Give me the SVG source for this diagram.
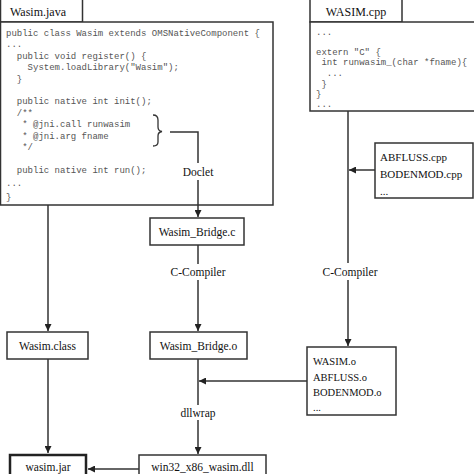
<svg xmlns="http://www.w3.org/2000/svg" width="474" height="474" viewBox="0 0 474 474">
  <defs>
    <marker id="arr" viewBox="0 0 10 10" refX="10" refY="5" markerWidth="7" markerHeight="7" orient="auto" markerUnits="userSpaceOnUse">
      <path d="M0,0 L10,5 L0,10 z" fill="#222"/>
    </marker>
    <style>
      .box { fill: #fff; stroke: #333; stroke-width: 1.5; }
      .thick { fill: #fff; stroke: #222; stroke-width: 2.5; }
      .lbl { font-family: "Liberation Serif", "Times New Roman", serif; font-size: 11.5px; fill: #111; }
      .sm { font-size: 10.5px; }
      .mid { text-anchor: middle; }
      .code { font-family: "Liberation Mono", "Courier New", monospace; font-size: 9px; fill: #555; white-space: pre; }
      .edge { fill: none; stroke: #333; stroke-width: 1.5; }
    </style>
  </defs>
  <rect width="474" height="474" fill="#fff"/>

  <!-- Wasim.java source -->
  <g id="wasim-java">
    <rect class="box" x="0.5" y="-2" width="82" height="24"/>
    <text class="lbl" x="10" y="16" style="font-size:12px">Wasim.java</text>
    <rect class="box" x="0.5" y="22" width="272.5" height="183"/>
    <text class="code" x="6" y="36">public class Wasim extends OMSNativeComponent {</text>
    <text class="code" x="6" y="47">...</text>
    <text class="code" x="6" y="59">  public void register() {</text>
    <text class="code" x="6" y="70">    System.loadLibrary("Wasim");</text>
    <text class="code" x="6" y="82">  }</text>
    <text class="code" x="6" y="104">  public native int init();</text>
    <text class="code" x="6" y="116">  /**</text>
    <text class="code" x="6" y="127">   * @jni.call runwasim</text>
    <text class="code" x="6" y="139">   * @jni.arg fname</text>
    <text class="code" x="6" y="150">   */</text>
    <text class="code" x="6" y="173">  public native int run();</text>
    <text class="code" x="6" y="186">...</text>
    <text class="code" x="6" y="200">}</text>
    <!-- brace grouping the doclet tags -->
    <path d="M153,115 Q158,115 158,120 V127 Q158,131 162,131.5 Q158,132 158,136 V142 Q158,146 153,146" fill="none" stroke="#333" stroke-width="1.3"/>
  </g>

  <!-- WASIM.cpp source -->
  <g id="wasim-cpp">
    <rect class="box" x="310" y="-2" width="92" height="24"/>
    <text class="lbl mid" x="356" y="16" style="font-size:12px">WASIM.cpp</text>
    <rect class="box" x="310" y="22" width="170" height="89"/>
    <text class="code" x="316" y="35">...</text>
    <text class="code" x="316" y="55">extern "C" {</text>
    <text class="code" x="316" y="65"> int runwasim_(char *fname){</text>
    <text class="code" x="316" y="76">  ...</text>
    <text class="code" x="316" y="87"> }</text>
    <text class="code" x="316" y="97">}</text>
    <text class="code" x="316" y="107">...</text>
  </g>

  <!-- further C++ sources -->
  <g id="cpp-sources">
    <rect class="box" x="375" y="143" width="98" height="55"/>
    <text class="lbl" x="380" y="161" style="font-size:11px">ABFLUSS.cpp</text>
    <text class="lbl" x="380" y="178" style="font-size:11px">BODENMOD.cpp</text>
    <text class="lbl" x="380" y="195" style="font-size:11px">...</text>
  </g>

  <g id="wasim-bridge-c">
    <rect class="box" x="150" y="218" width="94" height="27"/>
    <text class="lbl mid" x="197" y="235.5">Wasim_Bridge.c</text>
  </g>

  <g id="wasim-class">
    <rect class="box" x="7" y="332" width="81" height="27"/>
    <text class="lbl mid" x="47.5" y="349.5">Wasim.class</text>
  </g>

  <g id="wasim-bridge-o">
    <rect class="box" x="150" y="332" width="97" height="27"/>
    <text class="lbl mid" x="198.5" y="349.5">Wasim_Bridge.o</text>
  </g>

  <g id="object-files">
    <rect class="box" x="307" y="347" width="89" height="68"/>
    <text class="lbl sm" x="313" y="365">WASIM.o</text>
    <text class="lbl sm" x="313" y="381">ABFLUSS.o</text>
    <text class="lbl sm" x="313" y="396">BODENMOD.o</text>
    <text class="lbl sm" x="313" y="411">...</text>
  </g>

  <g id="wasim-jar">
    <rect class="thick" x="10" y="455" width="76" height="30"/>
    <text class="lbl mid" x="48" y="471">wasim.jar</text>
  </g>

  <g id="wasim-dll">
    <rect class="box" x="139" y="455" width="127" height="30"/>
    <text class="lbl mid" x="202.5" y="471">win32_x86_wasim.dll</text>
  </g>

  <!-- connectors -->
  <g id="connectors">
    <!-- brace -> Doclet -> Wasim_Bridge.c -->
    <path class="edge" d="M170,132 H198 V163"/>
    <path class="edge" d="M198,180 V217" marker-end="url(#arr)"/>
    <text class="lbl mid" x="198" y="176">Doclet</text>
    <!-- Wasim.java -> Wasim.class -->
    <path class="edge" d="M48,205 V331" marker-end="url(#arr)"/>
    <!-- Wasim_Bridge.c -> Wasim_Bridge.o -->
    <path class="edge" d="M198,245 V264"/>
    <path class="edge" d="M198,280 V331" marker-end="url(#arr)"/>
    <text class="lbl mid" x="198" y="276">C-Compiler</text>
    <!-- WASIM.cpp -> WASIM.o -->
    <path class="edge" d="M348,111 V263"/>
    <path class="edge" d="M348,280 V346" marker-end="url(#arr)"/>
    <text class="lbl mid" x="350" y="276">C-Compiler</text>
    <!-- ABFLUSS.cpp ... -> compile line -->
    <path class="edge" d="M375,170 H349" marker-end="url(#arr)"/>
    <!-- Wasim_Bridge.o -> dllwrap -> dll -->
    <path class="edge" d="M198,359 V405"/>
    <path class="edge" d="M198,420 V454" marker-end="url(#arr)"/>
    <text class="lbl mid" x="198" y="417">dllwrap</text>
    <!-- WASIM.o ... -> link line -->
    <path class="edge" d="M307,381 H199" marker-end="url(#arr)"/>
    <!-- Wasim.class -> wasim.jar -->
    <path class="edge" d="M48,359 V453" marker-end="url(#arr)"/>
    <!-- dll -> wasim.jar -->
    <path class="edge" d="M139,469 H88" marker-end="url(#arr)"/>
  </g>
</svg>
